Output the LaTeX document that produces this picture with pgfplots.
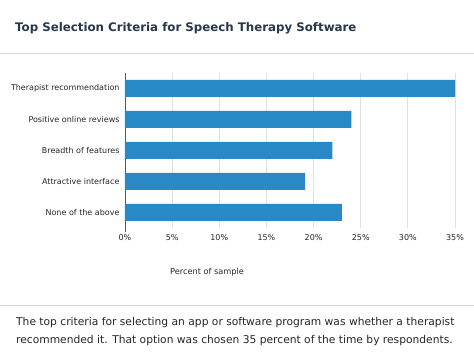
\documentclass[border=0pt]{standalone}
\usepackage{fontspec}
\setmainfont{DejaVu Sans}
\usepackage{pgfplots}
\pgfplotsset{compat=1.18}
\definecolor{barblue}{RGB}{41,137,199}
\definecolor{titlecol}{RGB}{40,55,75}
\definecolor{gridcol}{RGB}{225,225,225}
\definecolor{sepcol}{RGB}{215,215,215}
\begin{document}
\begin{tikzpicture}
\path[use as bounding box,fill=white] (0pt,0pt) rectangle (474pt,355pt);
\node[anchor=west,text=titlecol,font=\fontsize{11.8}{13}\selectfont\bfseries,inner sep=0pt] at (15pt,326.5pt) {Top Selection Criteria for Speech Therapy Software};
\draw[sepcol,line width=0.8pt] (0pt,302pt) -- (474pt,302pt);
\draw[sepcol,line width=0.8pt] (0pt,50pt) -- (474pt,50pt);
\begin{axis}[
  at={(125pt,127pt)}, anchor=south west,
  scale only axis, width=330pt, height=155pt,
  xmin=0, xmax=35, ymin=0.5, ymax=5.5,
  xbar, bar width=17pt,
  axis x line=bottom, axis y line=left,
  axis line style={-},
  x axis line style={draw=none},
  y axis line style={draw=black!65, line width=0.8pt, shorten <=-4pt},
  xtick={0,5,...,35},
  xticklabel={\pgfmathprintnumber{\tick}\%},
  /pgf/number format/assume math mode=true,
  major tick length=0pt,
  xmajorgrids, grid style={gridcol, line width=0.8pt},
  ytick={1,2,3,4,5},
  yticklabels={None of the above,Attractive interface,Breadth of features,Positive online reviews,Therapist recommendation},
  tick label style={font=\fontsize{8.0}{9}\selectfont, text=black!85},
  xticklabel style={yshift=-3pt},
  yticklabel style={xshift=-2pt},
]
\addplot[fill=barblue, draw=none] coordinates {(23,1) (19.1,2) (22,3) (24,4) (35,5)};
\end{axis}
\node[anchor=west,font=\fontsize{8.2}{9}\selectfont,text=black!85,inner sep=0pt] at (170pt,83pt) {Percent of sample};
\node[anchor=north west,align=left,text=black!85,font=\fontsize{10.7}{18}\selectfont,inner sep=0pt] at (16pt,38pt) {The top criteria for selecting an app or software program was whether a therapist\\recommended it. That option was chosen 35 percent of the time by respondents.};
\end{tikzpicture}
\end{document}
